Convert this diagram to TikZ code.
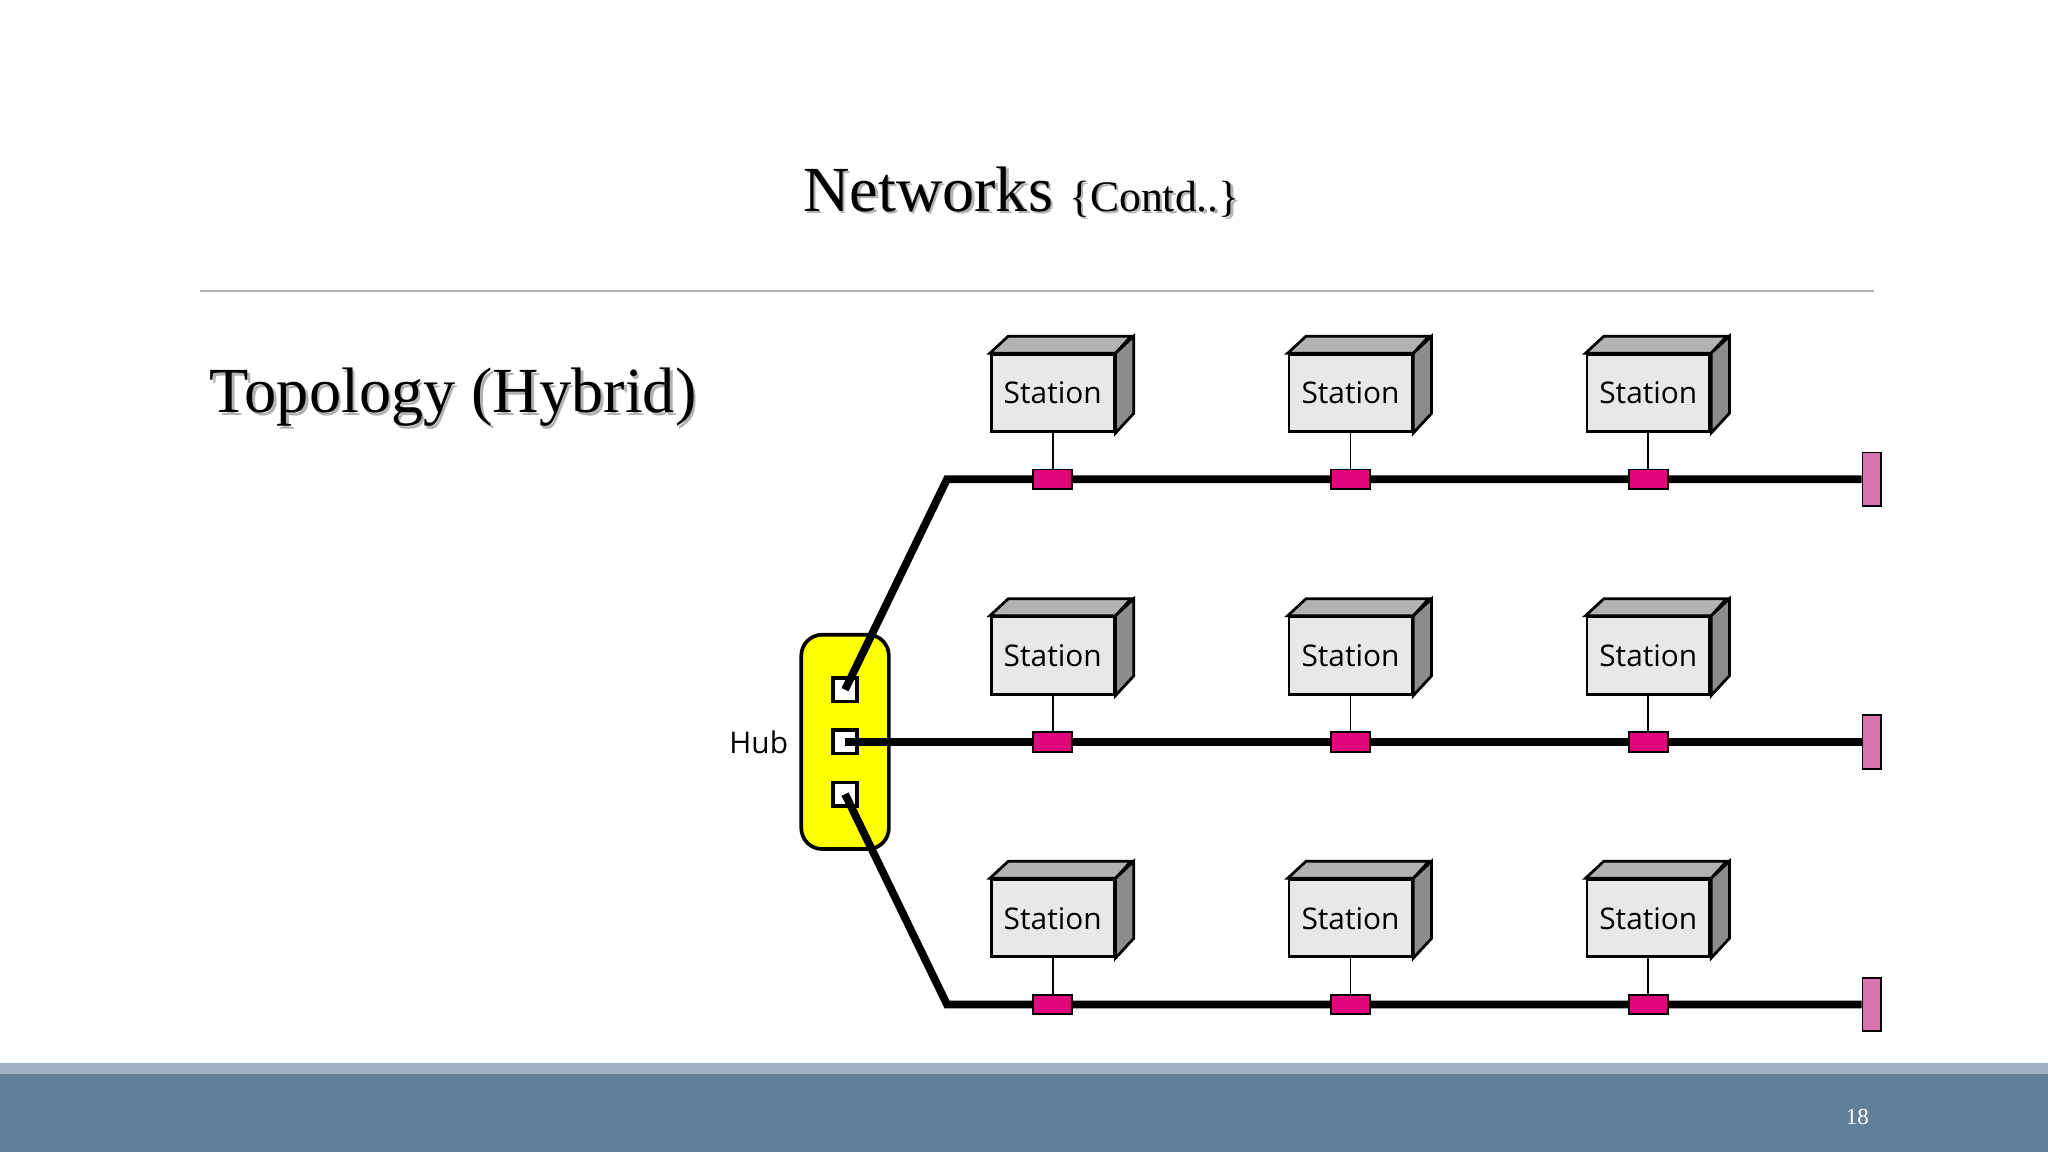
\documentclass[tikz,border=0pt]{standalone}
\usepackage{fontspec}
\setmainfont{Liberation Serif}
\newfontfamily\stfont{Open Sans}
\usetikzlibrary{positioning}
\definecolor{tapcol}{HTML}{E0067C}
\definecolor{endcol}{HTML}{D873AE}
\definecolor{bandlight}{HTML}{9DB1C2}
\definecolor{banddark}{HTML}{617F96}
\definecolor{hubcol}{HTML}{FFFF00}
\tikzset{
  station/.style={draw, semithick, fill=gray!18, minimum width=0.94cm, minimum height=0.59cm,
    inner sep=0pt, font=\stfont\fontsize{6.5}{8}\selectfont},
  tap/.style={draw, fill=tapcol, minimum width=0.30cm, minimum height=0.15cm, inner sep=0pt},
  term/.style={draw, fill=endcol, minimum width=0.14cm, minimum height=0.41cm, inner sep=0pt},
  port/.style={draw, thick, fill=white, minimum size=0.18cm, inner sep=0pt},
  bus/.style={line width=1.7pt}
}
\begin{document}
\begin{tikzpicture}[x=0.01cm,y=-0.01cm]
\useasboundingbox (0,0) rectangle (1568,882);
% Title
\node[gray!60] (title-sh) at (784,149) {\fontsize{14}{17}\selectfont Networks {\fontsize{9.5}{12}\selectfont\{Contd..\}}};
\node (title) at (782,147) {\fontsize{14}{17}\selectfont Networks {\fontsize{9.5}{12}\selectfont\{Contd..\}}};
\draw[gray!60, thin] (153,223) -- (1435,223);
\node[gray!60, anchor=base west, inner sep=0pt] (topo-sh) at (162,318) {\fontsize{14}{17}\selectfont Topology (Hybrid)};
\node[anchor=base west, inner sep=0pt] (topo) at (160,316) {\fontsize{14}{17}\selectfont Topology (Hybrid)};
% Bottom band
\fill[bandlight] (0,814) rectangle (1568,822);
\fill[banddark] (0,822) rectangle (1568,882);
\node[white, font=\fontsize{5}{6}\selectfont] (page) at (1422,855) {18};
% Hub
\node[draw, thick, fill=hubcol, rounded corners=0.16cm, minimum width=0.67cm, minimum height=1.64cm] (hub) at (647,568) {};
\node[left=0.08cm of hub, inner sep=0pt, font=\stfont\fontsize{6.5}{8}\selectfont] (hublabel) {Hub};
\foreach \r/\y in {1/528,2/568,3/608}
  \node[port] (p\r) at (647,\y) {};
% Stations and buses
\foreach \r/\y in {1/367,2/568,3/769} {
  \foreach \c/\x in {1/806,2/1034,3/1262} {
    \node[station] (s\r\c) at (\x,\y-66) {Station};
    \filldraw[fill=gray!60, semithick] (s\r\c.north west) -- ++(14,-13) -- ++(94,0) -- (s\r\c.north east) -- cycle;
    \filldraw[fill=gray!90, semithick] (s\r\c.north east) -- ++(14,-13) -- ++(0,59) -- (s\r\c.south east) -- cycle;
  }
  \node[term] (e\r) at (1433,\y) {};
}
\coordinate (b1) at (725,367);
\coordinate (b3) at (725,769);
\draw[bus] (p1.center) -- (b1) -- (e1.west);
\draw[bus] (p2.center) -- (e2.west);
\draw[bus] (p3.center) -- (b3) -- (e3.west);
\foreach \r/\y in {1/367,2/568,3/769}
  \foreach \c/\x in {1/806,2/1034,3/1262} {
    \node[tap] (t\r\c) at (\x,\y) {};
    \draw (s\r\c.south) -- (t\r\c.north);
  }
\end{tikzpicture}
\end{document}
